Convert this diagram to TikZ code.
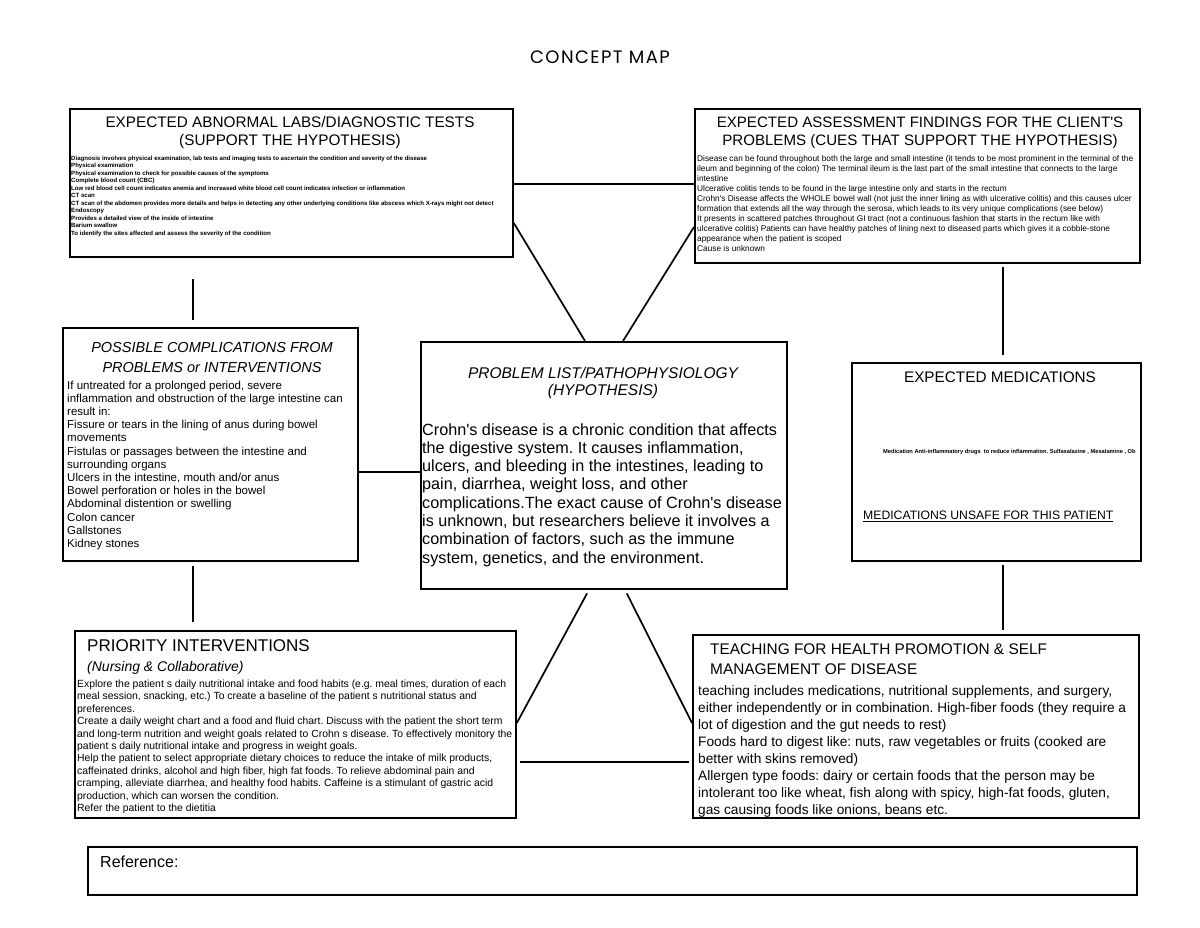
\documentclass[tikz,border=0pt]{standalone}
\usepackage{fontspec}
\setmainfont{Liberation Sans}[Ligatures=TeXOff]
\newfontfamily\titlefont[LetterSpace=8]{Poppins}

\newcommand{\fsz}[2]{\fontsize{#1}{#2}\selectfont}

\tikzset{
  box/.style={draw, line width=1.8pt, inner sep=0pt, anchor=north west},
  link/.style={line width=1.7pt},
  head/.style={inner sep=0pt, text width=460pt, align=flush center, anchor=base, font=\fsz{15.3}{18}},
  txt/.style={inner sep=0pt, text width=480pt, align=flush left, anchor=base west}
}

\begin{document}
\frenchspacing
\begin{tikzpicture}[x=1pt,y=-1pt]
\useasboundingbox (0,0) rectangle (1200,927);
\fill[white] (0,0) rectangle (1200,927);

% title
\node[inner sep=0pt, anchor=base] (title) at (600,63) {\titlefont\fsz{18}{20}CONCEPT MAP};

% boxes
\node[box, minimum width=443pt, minimum height=148pt] (labs) at (69,108) {};
\node[box, minimum width=445pt, minimum height=154pt] (assess) at (694,108) {};
\node[box, minimum width=295pt, minimum height=233pt] (compl) at (62,327) {};
\node[box, minimum width=366pt, minimum height=247pt] (prob) at (420,341) {};
\node[box, minimum width=289pt, minimum height=198pt] (meds) at (851,362) {};
\node[box, minimum width=441pt, minimum height=187pt] (prio) at (74,630) {};
\node[box, minimum width=446pt, minimum height=183pt] (teach) at (692,634) {};
\node[box, minimum width=1049pt, minimum height=48pt] (ref) at (87,846) {};

% labs
\node[head] (labsh) at (290,127.5) {EXPECTED ABNORMAL LABS/DIAGNOSTIC TESTS\\(SUPPORT THE HYPOTHESIS)};
\node[txt, font=\fsz{6.1}{7.45}\bfseries] (labst) at (71,160.5) {Diagnosis involves physical examination, lab tests and imaging tests to ascertain the condition and severity of the disease\\
Physical examination\\
Physical examination to check for possible causes of the symptoms\\
Complete blood count (CBC)\\
Low red blood cell count indicates anemia  and increased white blood cell count indicates infection or inflammation\\
CT scan\\
CT scan of the abdomen provides more details and helps in detecting any other underlying conditions like abscess which X-rays might not detect\\
Endoscopy\\
Provides a detailed view of the inside of intestine\\
Barium swallow\\
To identify the sites affected and assess the severity of the condition};

% assessment
\node[head, font=\fsz{15.1}{17.5}] (assessh) at (920,127.5) {EXPECTED ASSESSMENT FINDINGS FOR THE CLIENT'S\\PROBLEMS (CUES THAT SUPPORT THE HYPOTHESIS)};
\node[txt, font=\fsz{8.3}{10}] (assesst) at (697,161.5) {Disease can be found throughout both the large and small intestine (it tends to be most prominent in the terminal of the\\
ileum and beginning of the colon)  The terminal ileum is the last part of the small intestine that connects to the large\\
intestine\\
Ulcerative colitis tends to be found in the large intestine only and starts in the rectum\\
Crohn's Disease affects the WHOLE bowel wall (not just the inner lining as with ulcerative colitis) and this causes ulcer\\
formation that extends all the way through the serosa, which leads to its very unique complications (see below)\\
It presents in scattered patches throughout GI tract (not a continuous fashion that starts in the rectum like with\\
ulcerative colitis)  Patients can have healthy patches of lining next to diseased parts which gives it a cobble-stone\\
appearance when the patient is scoped\\
Cause is unknown};

% complications
\node[head, font=\fsz{14.5}{20}\itshape] (complh) at (212,352) {POSSIBLE COMPLICATIONS FROM\\PROBLEMS or INTERVENTIONS};
\node[txt, font=\fsz{11.5}{13.2}] (complt) at (67,389) {If untreated for a prolonged period, severe\\
inflammation and obstruction of the large intestine can\\
result in:\\
Fissure or tears in the lining of anus during bowel\\
movements\\
Fistulas or passages between the intestine and\\
surrounding organs\\
Ulcers in the intestine, mouth and/or anus\\
Bowel perforation or holes in the bowel\\
Abdominal distention or swelling\\
Colon cancer\\
Gallstones\\
Kidney stones};

% problem list
\node[head, font=\fsz{15.5}{17}\itshape] (probh) at (603,378) {PROBLEM LIST/PATHOPHYSIOLOGY\\(HYPOTHESIS)};
\node[txt, font=\fsz{16.2}{18.3}] (probt) at (422,435) {Crohn's disease is a chronic condition that affects\\
the digestive system. It causes inflammation,\\
ulcers, and bleeding in the intestines, leading to\\
pain, diarrhea, weight loss, and other\\
complications.The exact cause of Crohn's disease\\
is unknown, but researchers believe it involves a\\
combination of factors, such as the immune\\
system, genetics, and the environment.};

% medications
\node[head] (medsh) at (1000,382.5) {EXPECTED MEDICATIONS};
\node[txt, font=\fsz{5.7}{6}\bfseries] (medst) at (883,453) {Medication Anti-inflammatory drugs\ \ to reduce inflammation. Sulfasalazine , Mesalamine , Ob};
\node[txt, font=\fsz{12.2}{14}] (unsafe) at (863,519.5) {\underline{MEDICATIONS UNSAFE FOR THIS PATIENT}};

% priority interventions
\node[txt, font=\fsz{17}{19.5}] (prioh) at (87,651.5) {PRIORITY INTERVENTIONS\\{\fsz{14}{19.5}\itshape (Nursing \& Collaborative)}};
\node[txt, font=\fsz{10.4}{12.4}] (priot) at (77,687.5) {Explore the patient s daily nutritional intake and food habits (e.g. meal times, duration of each\\
meal session, snacking, etc.) To create a baseline of the patient s nutritional status and\\
preferences.\\
Create a daily weight chart and a food and fluid chart. Discuss with the patient the short term\\
and long-term nutrition and weight goals related to Crohn s disease. To effectively monitory the\\
patient s daily nutritional intake and progress in weight goals.\\
Help the patient to select appropriate dietary choices to reduce the intake of milk products,\\
caffeinated drinks, alcohol and high fiber, high fat foods. To relieve abdominal pain and\\
cramping, alleviate diarrhea, and healthy food habits. Caffeine is a stimulant of gastric acid\\
production, which can worsen the condition.\\
Refer the patient to the dietitia};

% teaching
\node[txt, font=\fsz{15.4}{19.5}] (teachh) at (710,654.5) {TEACHING FOR HEALTH PROMOTION \& SELF\\MANAGEMENT OF DISEASE};
\node[txt, font=\fsz{13.7}{17}] (teacht) at (698,695) {teaching includes medications, nutritional supplements, and surgery,\\
either independently or in combination. High-fiber foods (they require a\\
lot of digestion and the gut needs to rest)\\
Foods hard to digest like: nuts, raw vegetables or fruits (cooked are\\
better with skins removed)\\
Allergen type foods: dairy or certain foods that the person may be\\
intolerant too like wheat, fish along with spicy, high-fat foods, gluten,\\
gas causing foods like onions, beans etc.};

% reference
\node[txt, font=\fsz{16}{18}] (reft) at (100,867) {Reference:};

% connectors
\draw[link] (labs.east |- 0,184) -- (assess.west |- 0,184);
\draw[link] (labs.east |- 0,223) -- (prob.north -| 585,0);
\draw[link] (assess.west |- 0,227) -- (prob.north -| 623,0);
\draw[link, shorten <=21pt, shorten >=7pt] (labs.south -| 193,0) -- (compl.north -| 193,0);
\draw[link] (compl.east |- 0,472) -- (prob.west |- 0,472);
\draw[link, shorten <=3pt, shorten >=7pt] (assess.south -| 1003,0) -- (meds.north -| 1003,0);
\draw[link, shorten <=3pt, shorten >=4pt] (meds.south -| 1003,0) -- (teach.north -| 1003,0);
\draw[link, shorten <=4pt, shorten >=8pt] (compl.south -| 193,0) -- (prio.north -| 193,0);
\draw[link, shorten <=4pt] (prob.south -| 589,0) -- (prio.east |- 0,723);
\draw[link, shorten <=4pt] (prob.south -| 625,0) -- (teach.west |- 0,723);
\draw[link, shorten <=3pt, shorten >=3pt] (prio.east |- 0,762) -- (teach.west |- 0,762);
\end{tikzpicture}
\end{document}
